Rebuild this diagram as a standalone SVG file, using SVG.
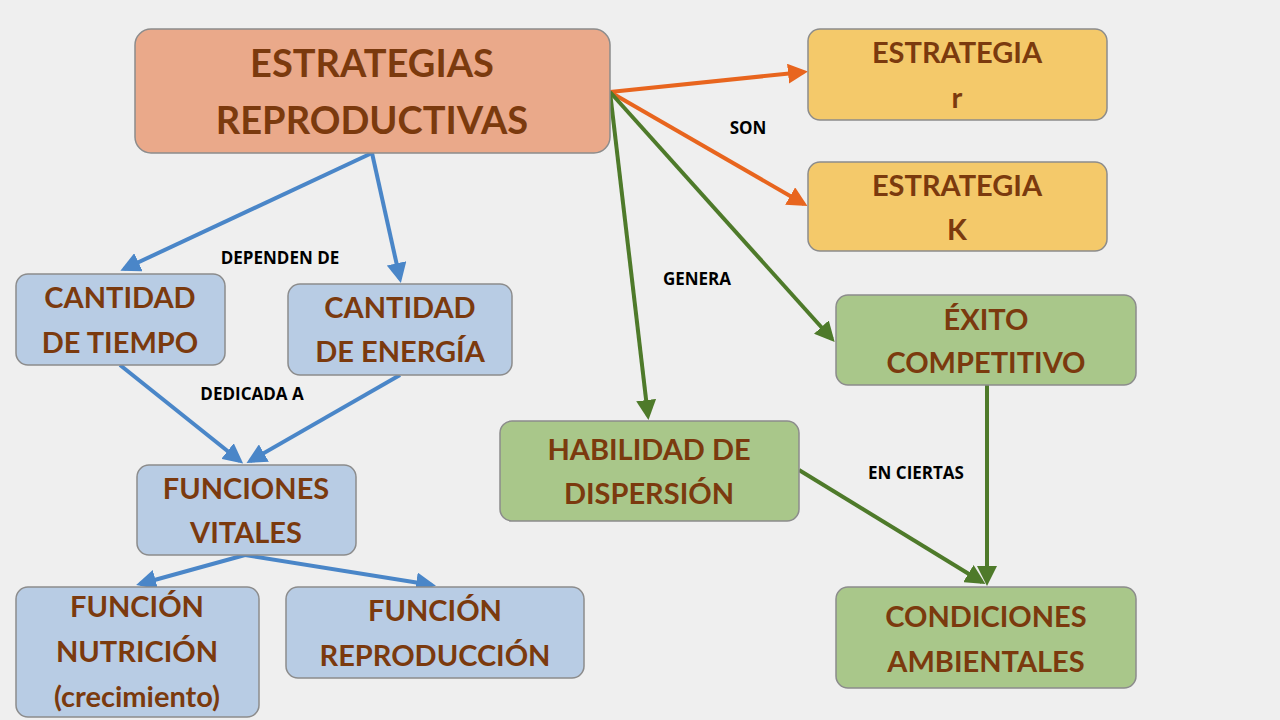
<svg xmlns="http://www.w3.org/2000/svg" width="1280" height="720" viewBox="0 0 1280 720">
<defs>
<style>
.n{stroke:#8c8c8c;stroke-width:1.5}
.t{font-family:Lato,"Open Sans",sans-serif;font-weight:bold;fill:#7b3a0e;text-anchor:middle}
.l{font-family:"Open Sans",sans-serif;font-weight:bold;font-size:17px;fill:#000;text-anchor:middle}
.b{stroke:#4a86c8;stroke-width:4;fill:none;marker-end:url(#mb)}
.o{stroke:#e8651e;stroke-width:4;fill:none;marker-end:url(#mo)}
.g{stroke:#4e7a2a;stroke-width:4;fill:none;marker-end:url(#mg)}
</style>
<marker id="mb" markerWidth="5" markerHeight="5" refX="4" refY="2.5" orient="auto"><path d="M0,0L5,2.5L0,5z" fill="#4a86c8"/></marker>
<marker id="mo" markerWidth="5" markerHeight="5" refX="4" refY="2.5" orient="auto"><path d="M0,0L5,2.5L0,5z" fill="#e8651e"/></marker>
<marker id="mg" markerWidth="5" markerHeight="5" refX="4" refY="2.5" orient="auto"><path d="M0,0L5,2.5L0,5z" fill="#4e7a2a"/></marker>
</defs>
<rect width="1280" height="720" fill="#efefef"/>
<g id="connectors">
<line class="b" x1="372" y1="153" x2="124" y2="269"/>
<line class="b" x1="372" y1="153" x2="400" y2="279"/>
<line class="b" x1="120" y1="365" x2="240" y2="461"/>
<line class="b" x1="400" y1="375" x2="250" y2="461"/>
<line class="b" x1="245" y1="555" x2="140" y2="584"/>
<line class="b" x1="245" y1="555" x2="432" y2="585"/>
<line class="o" x1="610" y1="92" x2="804" y2="72"/>
<line class="o" x1="610" y1="92" x2="804" y2="204"/>
<line class="g" x1="610" y1="92" x2="648" y2="416"/>
<line class="g" x1="610" y1="92" x2="832" y2="339"/>
<line class="g" x1="987" y1="385" x2="987" y2="582"/>
<line class="g" x1="799" y1="470" x2="982" y2="582"/>
<text class="l" x="280" y="264">DEPENDEN DE</text>
<text class="l" x="252" y="400">DEDICADA A</text>
<text class="l" x="748" y="134">SON</text>
<text class="l" x="697" y="285">GENERA</text>
<text class="l" x="916" y="479">EN CIERTAS</text>
</g>
<g id="n1"><rect class="n" x="135" y="29" width="475" height="124" rx="16" fill="#eaa98a"/><text class="t" font-size="38" x="372" y="77">ESTRATEGIAS</text><text class="t" font-size="38" x="372" y="134">REPRODUCTIVAS</text></g>
<g id="n2"><rect class="n" x="808" y="29" width="299" height="91" rx="12" fill="#f4c96a"/><text class="t" font-size="29" x="957" y="63">ESTRATEGIA</text><text class="t" font-size="29" x="957" y="108">r</text></g>
<g id="n3"><rect class="n" x="808" y="162" width="299" height="89" rx="12" fill="#f4c96a"/><text class="t" font-size="29" x="957" y="196">ESTRATEGIA</text><text class="t" font-size="29" x="957" y="240">K</text></g>
<g id="n4"><rect class="n" x="836" y="295" width="300" height="90" rx="12" fill="#a9c78a"/><text class="t" font-size="29" x="986" y="330">ÉXITO</text><text class="t" font-size="29" x="986" y="373">COMPETITIVO</text></g>
<g id="n5"><rect class="n" x="500" y="421" width="299" height="100" rx="12" fill="#a9c78a"/><text class="t" font-size="29" x="649" y="460">HABILIDAD DE</text><text class="t" font-size="29" x="649" y="504">DISPERSIÓN</text></g>
<g id="n6"><rect class="n" x="836" y="587" width="300" height="101" rx="12" fill="#a9c78a"/><text class="t" font-size="29" x="986" y="627">CONDICIONES</text><text class="t" font-size="29" x="986" y="672">AMBIENTALES</text></g>
<g id="n7"><rect class="n" x="16" y="274" width="209" height="91" rx="12" fill="#b8cce4"/><text class="t" font-size="29" x="120" y="308">CANTIDAD</text><text class="t" font-size="29" x="120" y="353">DE TIEMPO</text></g>
<g id="n8"><rect class="n" x="288" y="284" width="224" height="91" rx="12" fill="#b8cce4"/><text class="t" font-size="29" x="400" y="318">CANTIDAD</text><text class="t" font-size="29" x="400" y="362">DE ENERGÍA</text></g>
<g id="n9"><rect class="n" x="137" y="465" width="219" height="90" rx="12" fill="#b8cce4"/><text class="t" font-size="29" x="246" y="499">FUNCIONES</text><text class="t" font-size="29" x="246" y="543">VITALES</text></g>
<g id="n10"><rect class="n" x="16" y="587" width="243" height="130" rx="12" fill="#b8cce4"/><text class="t" font-size="29" x="137" y="617">FUNCIÓN</text><text class="t" font-size="29" x="137" y="662">NUTRICIÓN</text><text class="t" font-size="29" x="137" y="707">(crecimiento)</text></g>
<g id="n11"><rect class="n" x="286" y="587" width="298" height="91" rx="12" fill="#b8cce4"/><text class="t" font-size="29" x="435" y="621">FUNCIÓN</text><text class="t" font-size="29" x="435" y="666">REPRODUCCIÓN</text></g>
</svg>
